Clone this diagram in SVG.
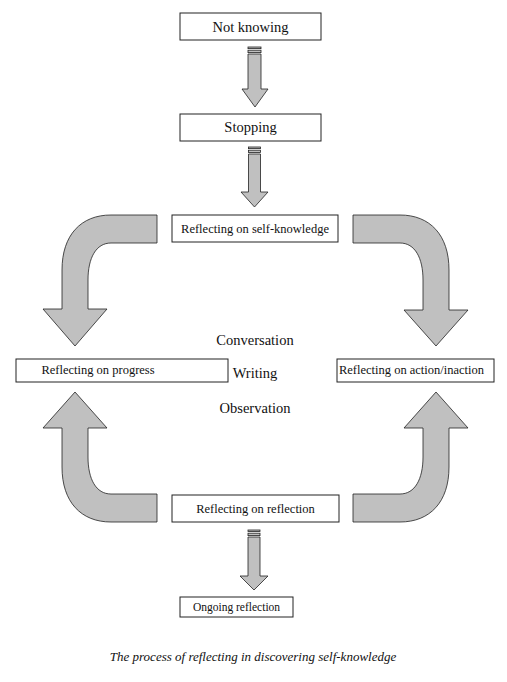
<svg xmlns="http://www.w3.org/2000/svg" width="507" height="682" viewBox="0 0 507 682">
<style>
.box{fill:#fff;stroke:#222;stroke-width:1}
.arr{fill:#c0c0c0;stroke:#222;stroke-width:0.8;stroke-linejoin:miter}
text{fill:#111;text-anchor:middle}
</style>
<rect width="507" height="682" fill="#fff"/>
<g id="connectors">
  <g id="arrow1">
    <rect class="arr" x="248" y="47" width="13" height="1.6"/>
    <rect class="arr" x="248" y="50.2" width="13" height="2.4"/>
    <path class="arr" d="M248,54 L261,54 L261,89 L268,89 L255,107 L242,89 L248,89 Z"/>
  </g>
  <g id="arrow2">
    <rect class="arr" x="248.5" y="147" width="12" height="1.6"/>
    <rect class="arr" x="248.5" y="150.2" width="12" height="2.4"/>
    <path class="arr" d="M248.5,154 L260.5,154 L260.5,192 L268,192 L254.5,207 L241,192 L248.5,192 Z"/>
  </g>
  <g id="arrow3">
    <rect class="arr" x="248" y="530" width="12" height="1.6"/>
    <rect class="arr" x="248" y="533.2" width="12" height="2.4"/>
    <path class="arr" d="M248,537 L260,537 L260,576 L268,576 L254,590 L240,576 L248,576 Z"/>
  </g>
  <path id="arrow-tl" class="arr" d="M157,215 L111,215 C81,215 62,235 62,270 L62,309 L43,309 L75,346 L107,309 L88,309 L88,280 C88,258 96,243 111,243 L157,243 Z"/>
  <path id="arrow-tr" class="arr" d="M353,215 L400,215 C430,215 449,235 449,270 L449,310 L468,310 L436,346 L404,310 L423,310 L423,280 C423,258 415,243 400,243 L353,243 Z"/>
  <path id="arrow-bl" class="arr" d="M157,522 L111,522 C81,522 62,502 62,467 L62,428 L43,428 L75,392 L107,428 L88,428 L88,457 C88,479 96,494 111,494 L157,494 Z"/>
  <path id="arrow-br" class="arr" d="M353,522 L400,522 C430,522 449,502 449,467 L449,428 L468,428 L436,392 L404,428 L423,428 L423,457 C423,479 415,494 400,494 L353,494 Z"/>
</g>
<g font-family="Liberation Serif, Times New Roman, Times, serif">
<g id="not-knowing">
  <rect class="box" x="180" y="13" width="141" height="27"/>
  <text x="250.5" y="31.5" font-size="14.5">Not knowing</text>
</g>
<g id="stopping">
  <rect class="box" x="180" y="114" width="141" height="27"/>
  <text x="250.5" y="132" font-size="14.5">Stopping</text>
</g>
<g id="self-knowledge">
  <rect class="box" x="172" y="215" width="166" height="27"/>
  <text x="255" y="233" font-size="12.5">Reflecting on self-knowledge</text>
</g>
<g id="progress">
  <rect class="box" x="16" y="359" width="212" height="23"/>
  <text x="98" y="374" font-size="12.5">Reflecting on progress</text>
</g>
<g id="action">
  <rect class="box" x="337" y="359" width="157" height="23"/>
  <text x="411.5" y="374" font-size="12.5">Reflecting on action/inaction</text>
</g>
<g id="reflection">
  <rect class="box" x="172" y="495" width="167" height="27"/>
  <text x="255.5" y="512.5" font-size="12.5">Reflecting on reflection</text>
</g>
<g id="ongoing">
  <rect class="box" x="180" y="597" width="113" height="20"/>
  <text x="236.5" y="611" font-size="11.5">Ongoing reflection</text>
</g>
<g id="centre-labels">
  <text x="255" y="345" font-size="14.5">Conversation</text>
  <text x="255" y="378" font-size="14.5">Writing</text>
  <text x="255" y="413" font-size="14.5">Observation</text>
</g>
<text x="253" y="661" font-size="13" font-style="italic">The process of reflecting in discovering self-knowledge</text>
</g>
</svg>
